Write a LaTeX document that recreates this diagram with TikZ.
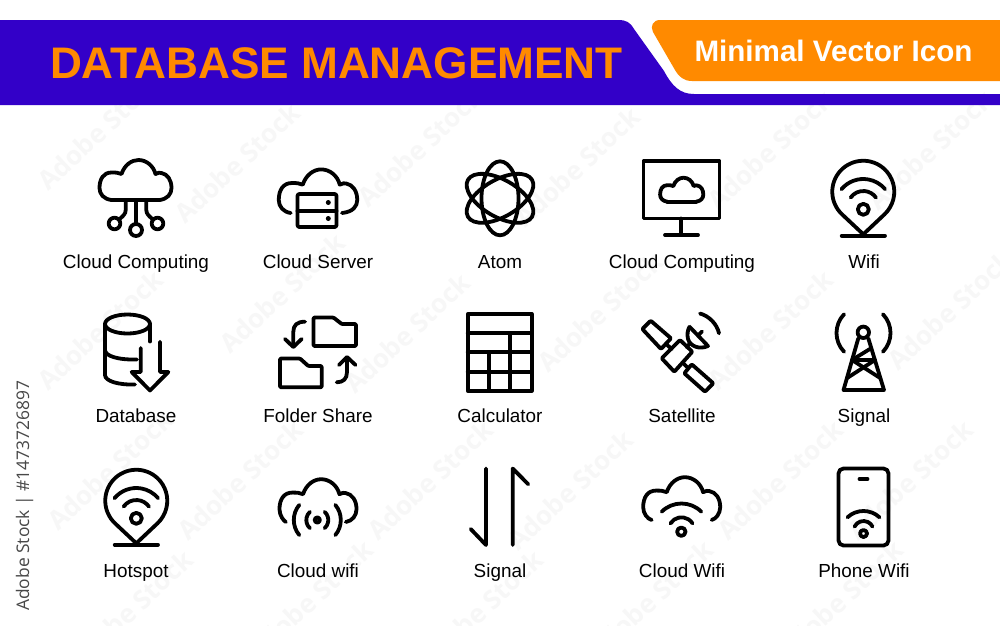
\documentclass[tikz,border=0pt]{standalone}
\usepackage{fontspec}
\setmainfont{Liberation Sans}
\newfontfamily\stampfont{Open Sans}
\definecolor{bannerblue}{HTML}{3300C8}
\definecolor{bannerorange}{HTML}{FF8A00}
\definecolor{stampgray}{HTML}{484848}
\tikzset{
	icon/.style={line width=3.8pt, line cap=round, line join=round},
	iconlabel/.style={anchor=base, inner sep=0pt, font=\fontsize{18.9}{20}\selectfont},
	faintmark/.style={rotate=43, inner sep=0pt, text=black!3, font=\stampfont\bfseries\fontsize{26}{28}\selectfont}
}
% open cloud outline, bottom ends at -#2 and #3
\def\cloudarc[#1](#2:#3){\draw[icon,#1] (-#2,0) .. controls (-32,-1) and (-36,-6) .. (-36,-12) .. controls (-36,-21) and (-32,-27.5) .. (-24,-27.5) .. controls (-20,-27.5) and (-17,-27.5) .. (-14,-26) .. controls (-11,-35) and (-4,-40) .. (3,-40) .. controls (11,-40) and (18,-34) .. (20,-26) .. controls (22,-27.5) and (25,-27.5) .. (26,-27) .. controls (32,-26) and (36,-20) .. (36,-12) .. controls (36,-6) and (32,-1) .. (#3,0);}
% wave round a centre: radius #3, half angle #4, direction #5 (270 is up)
\def\wave(#1,#2)(#3:#4:#5){\draw[icon,shift={(#1,#2)}] (#5-#4:#3) arc (#5-#4:#5+#4:#3);}
\def\wifipin(#1,#2){
	\draw[icon,shift={(#1,#2)}] (0,42.6) -- (-21.3,22.6) arc (133.3:406.7:31) -- cycle;
}
\begin{document}
\begin{tikzpicture}[x=1pt,y=-1pt]
			\useasboundingbox (0,0) rectangle (1000,625);
			\fill[white] (0,0) rectangle (1000,625);
			
			%%%%% FAINT MARKS %%%%%
			\foreach \mx/\my in {100/130,237/163,420/147,577/167,770/150,930/150,
				100/330,282/293,407/333,600/312,770/330,950/310,
				110/470,240/480,430/480,570/490,780/480,910/480,
				130/610,310/600,480/610,650/600,840/600}
				\node[faintmark] (mark\mx-\my) at (\mx,\my) {Adobe Stock};
			
			%%%%% BANNER %%%%%
			\fill[bannerblue] (0,20) -- (618,20) .. controls (626,20) and (630,22) .. (634,29) -- (664,71) .. controls (672,86) and (680,94) .. (694,94) -- (1000,94) -- (1000,105) -- (0,105) -- cycle;
			\fill[bannerorange] (660,20) -- (1000,20) -- (1000,81) -- (692,81) .. controls (684,81) and (679,77) .. (675,70) -- (653,32) .. controls (650,26) and (653,20) .. (660,20) -- cycle;
			\node[anchor=base, inner sep=0pt, text=bannerorange, font=\fontsize{44.2}{46}\bfseries\selectfont] (bannertitle) at (336.5,78) {DATABASE MANAGEMENT};
			\node[anchor=base, inner sep=0pt, text=white, font=\fontsize{29.6}{32}\bfseries\selectfont] (bannertag) at (833.5,61.5) {Minimal Vector Icon};
			
			%%%%% ROW 1 %%%%%
			\cloudarc[shift={(135.5,200)}](24:24);
			\draw[icon] (111.5,200) -- (159.5,200);
			\draw[icon] (136,200) -- (136,224);
			\draw[icon] (136,230) circle (6);
			\draw[icon] (125.7,200) -- (125.7,210) .. controls (125.7,214) and (123,216) .. (119,219.5);
			\draw[icon] (114.5,223.5) circle (5.8);
			\draw[icon] (146.3,200) -- (146.3,210) .. controls (146.3,214) and (149,216) .. (153,219.5);
			\draw[icon] (157.5,223.5) circle (5.8);
			
			\cloudarc[shift={(318,213)},scale=1.09](25:22);
			\draw[icon,rounded corners=2pt] (297.5,194) rectangle (336.5,227);
			\draw[icon] (297.5,210.7) -- (336.5,210.7);
			\fill (328.3,202.5) circle (2.5);
			\fill (328.3,218.5) circle (2.5);
			
			\draw[icon] (500,198.3) ellipse (18.5 and 37);
			\draw[icon,rotate around={60:(500,198.3)}] (500,198.3) ellipse (18.5 and 37);
			\draw[icon,rotate around={-60:(500,198.3)}] (500,198.3) ellipse (18.5 and 37);
			
			\draw[icon] (643.5,161) rectangle (719.5,218.5);
			\draw[icon] (681,218.5) -- (681,235);
			\draw[icon] (665,235) -- (698,235);
			\cloudarc[shift={(681.7,201.7)},scale=0.6](24:24);
			\draw[icon] (667.3,201.7) -- (696.1,201.7);
			
			\wifipin(863.3,191.7)
			\draw[icon] (841.7,235.7) -- (885,235.7);
			\draw[icon] (863.3,209.3) circle (5.5);
			\wave(863.3,206.5)(15.5:55:270)
			\wave(863.3,207.5)(28.5:50:270)
			
			\node[iconlabel] (lblcompute) at (136,268) {Cloud Computing};
			\node[iconlabel] (lblserver) at (318,268) {Cloud Server};
			\node[iconlabel] (lblatom) at (500,268) {Atom};
			\node[iconlabel] (lblscreen) at (682,268) {Cloud Computing};
			\node[iconlabel] (lblwifi) at (864,268) {Wifi};
			
			%%%%% ROW 2 %%%%%
			\draw[icon] (127.5,324) ellipse (22.5 and 9.5);
			\draw[icon] (105,324) -- (105,375) .. controls (105,381) and (118,385) .. (135,384.5);
			\draw[icon] (105,350) .. controls (105,356) and (118,360) .. (137,359.5);
			\draw[icon] (150,324) -- (150,341.5);
			\draw[icon] (140.7,348) -- (140.7,372) -- (131.7,372) -- (150,390.5) -- (168.3,372) -- (160,372) -- (160,341.7);
			
			\draw[icon,rounded corners=1pt] (313.5,317.5) -- (333.5,317.5) -- (341.7,324) -- (356,324) -- (356,346) -- (313.5,346) -- cycle;
			\draw[icon,rounded corners=1pt] (280,358.5) -- (300,358.5) -- (308.3,366) -- (321.7,366) -- (321.7,387.3) -- (280,387.3) -- cycle;
			\draw[icon] (305,321.7) .. controls (297,321.7) and (293.3,325) .. (293.3,332) -- (293.3,346.7);
			\draw[icon] (285,339) -- (293.3,347) -- (301.7,339);
			\draw[icon] (336.7,382.3) .. controls (343,382.3) and (347,379) .. (347,372) -- (347,357.5);
			\draw[icon] (339,365) -- (347,357) -- (355.5,365);
			
			\draw[icon] (467.7,314) rectangle (531.7,390.7);
			\draw[icon] (467.7,333.3) -- (531.7,333.3);
			\draw[icon] (467.7,352.3) -- (531.7,352.3);
			\draw[icon] (467.7,371.7) -- (531.7,371.7);
			\draw[icon] (510,333.3) -- (510,390.7);
			\draw[icon] (489.3,352.3) -- (489.3,390.7);
			
			\draw[icon,rounded corners=1pt] (680,340) -- (692.3,351.7) -- (674.3,371.7) -- (661.7,358.3) -- cycle;
			\draw[icon,rounded corners=1pt] (650.7,320.7) -- (671,338.3) -- (661,349) -- (642.3,329) -- cycle;
			\draw[icon,rounded corners=1pt] (691.7,364.3) -- (713.3,383.3) -- (705,391.7) -- (684.3,373.3) -- cycle;
			\draw[icon] (666,344) -- (671.7,349);
			\draw[icon] (683.3,363.3) -- (688,368);
			\draw[icon] (689.5,326.7) -- (708,346) .. controls (699,350) and (690,346) .. (688,339) .. controls (687,335) and (687.5,330) .. (689.5,326.7);
			\draw[icon] (690,343.3) -- (686.7,347);
			\draw[icon] (698,335.5) -- (702,331.5);
			\draw[icon] (700,313.5) .. controls (709,316) and (717,324) .. (719,333.3);
			
			\draw[icon] (863.3,332.3) circle (5.7);
			\draw[icon] (858.3,338.3) -- (843.5,390) -- (884,390) -- (868.3,338.3);
			\draw[icon] (871,348.3) -- (852,360) -- (875,360) -- (846.7,378.3);
			\draw[icon] (852,360) -- (880.6,378.3);
			\wave(863.5,333)(27:44:180)
			\wave(863.5,333)(27:44:0)
			
			\node[iconlabel] (lbldatabase) at (136,422) {Database};
			\node[iconlabel] (lblfolder) at (318,422) {Folder Share};
			\node[iconlabel] (lblcalc) at (500,422) {Calculator};
			\node[iconlabel] (lblsat) at (682,422) {Satellite};
			\node[iconlabel] (lblsignal) at (864,422) {Signal};
			
			%%%%% ROW 3 %%%%%
			\wifipin(136.3,500.7)
			\draw[icon] (114.7,544.7) -- (158,544.7);
			\draw[icon] (136.3,518.3) circle (5.5);
			\wave(136.3,515.5)(15.5:55:270)
			\wave(136.3,516.5)(28.5:50:270)
			
			\cloudarc[shift={(318,522)},scale=1.07](30:26);
			\draw[icon,fill=black!65] (317.3,520) circle (2.6);
			\wave(317.3,520)(11:48:180)
			\wave(317.3,520)(11:48:0)
			\wave(317.3,520)(23.5:40:180)
			\wave(317.3,520)(23.5:40:0)
			
			\draw[icon] (486,468.5) -- (486,545) -- (470.7,529);
			\draw[icon] (512.7,545) -- (512.7,468.5) -- (528.3,484.3);
			
			\cloudarc[shift={(681.7,520)},scale=1.07](28:28);
			\wave(681.5,531.5)(28:45:270)
			\wave(681.5,530.3)(13:58:270)
			\draw[icon] (681.3,531.7) circle (4.2);
			
			\draw[icon,rounded corners=5pt] (838.5,468.5) rectangle (888.5,545.5);
			\draw[icon] (859.5,479) -- (867.5,479);
			\wave(863.5,534.5)(23.5:43:270)
			\wave(863.5,531)(10:64:270)
			\draw[icon] (863.5,533.5) circle (3.5);
			
			\node[iconlabel] (lblhotspot) at (136,577) {Hotspot};
			\node[iconlabel] (lblcloudwifi) at (318,577) {Cloud wifi};
			\node[iconlabel] (lblarrows) at (500,577) {Signal};
			\node[iconlabel] (lblcloudwifib) at (682,577) {Cloud Wifi};
			\node[iconlabel] (lblphone) at (864,577) {Phone Wifi};
			
			%%%%% STAMP %%%%%
			\node[rotate=90, anchor=base west, inner sep=0pt, text=stampgray, font=\stampfont\fontsize{17.4}{20}\selectfont] (stamp) at (29,611) {Adobe Stock | \#1473726897};
		\end{tikzpicture}
\end{document}
